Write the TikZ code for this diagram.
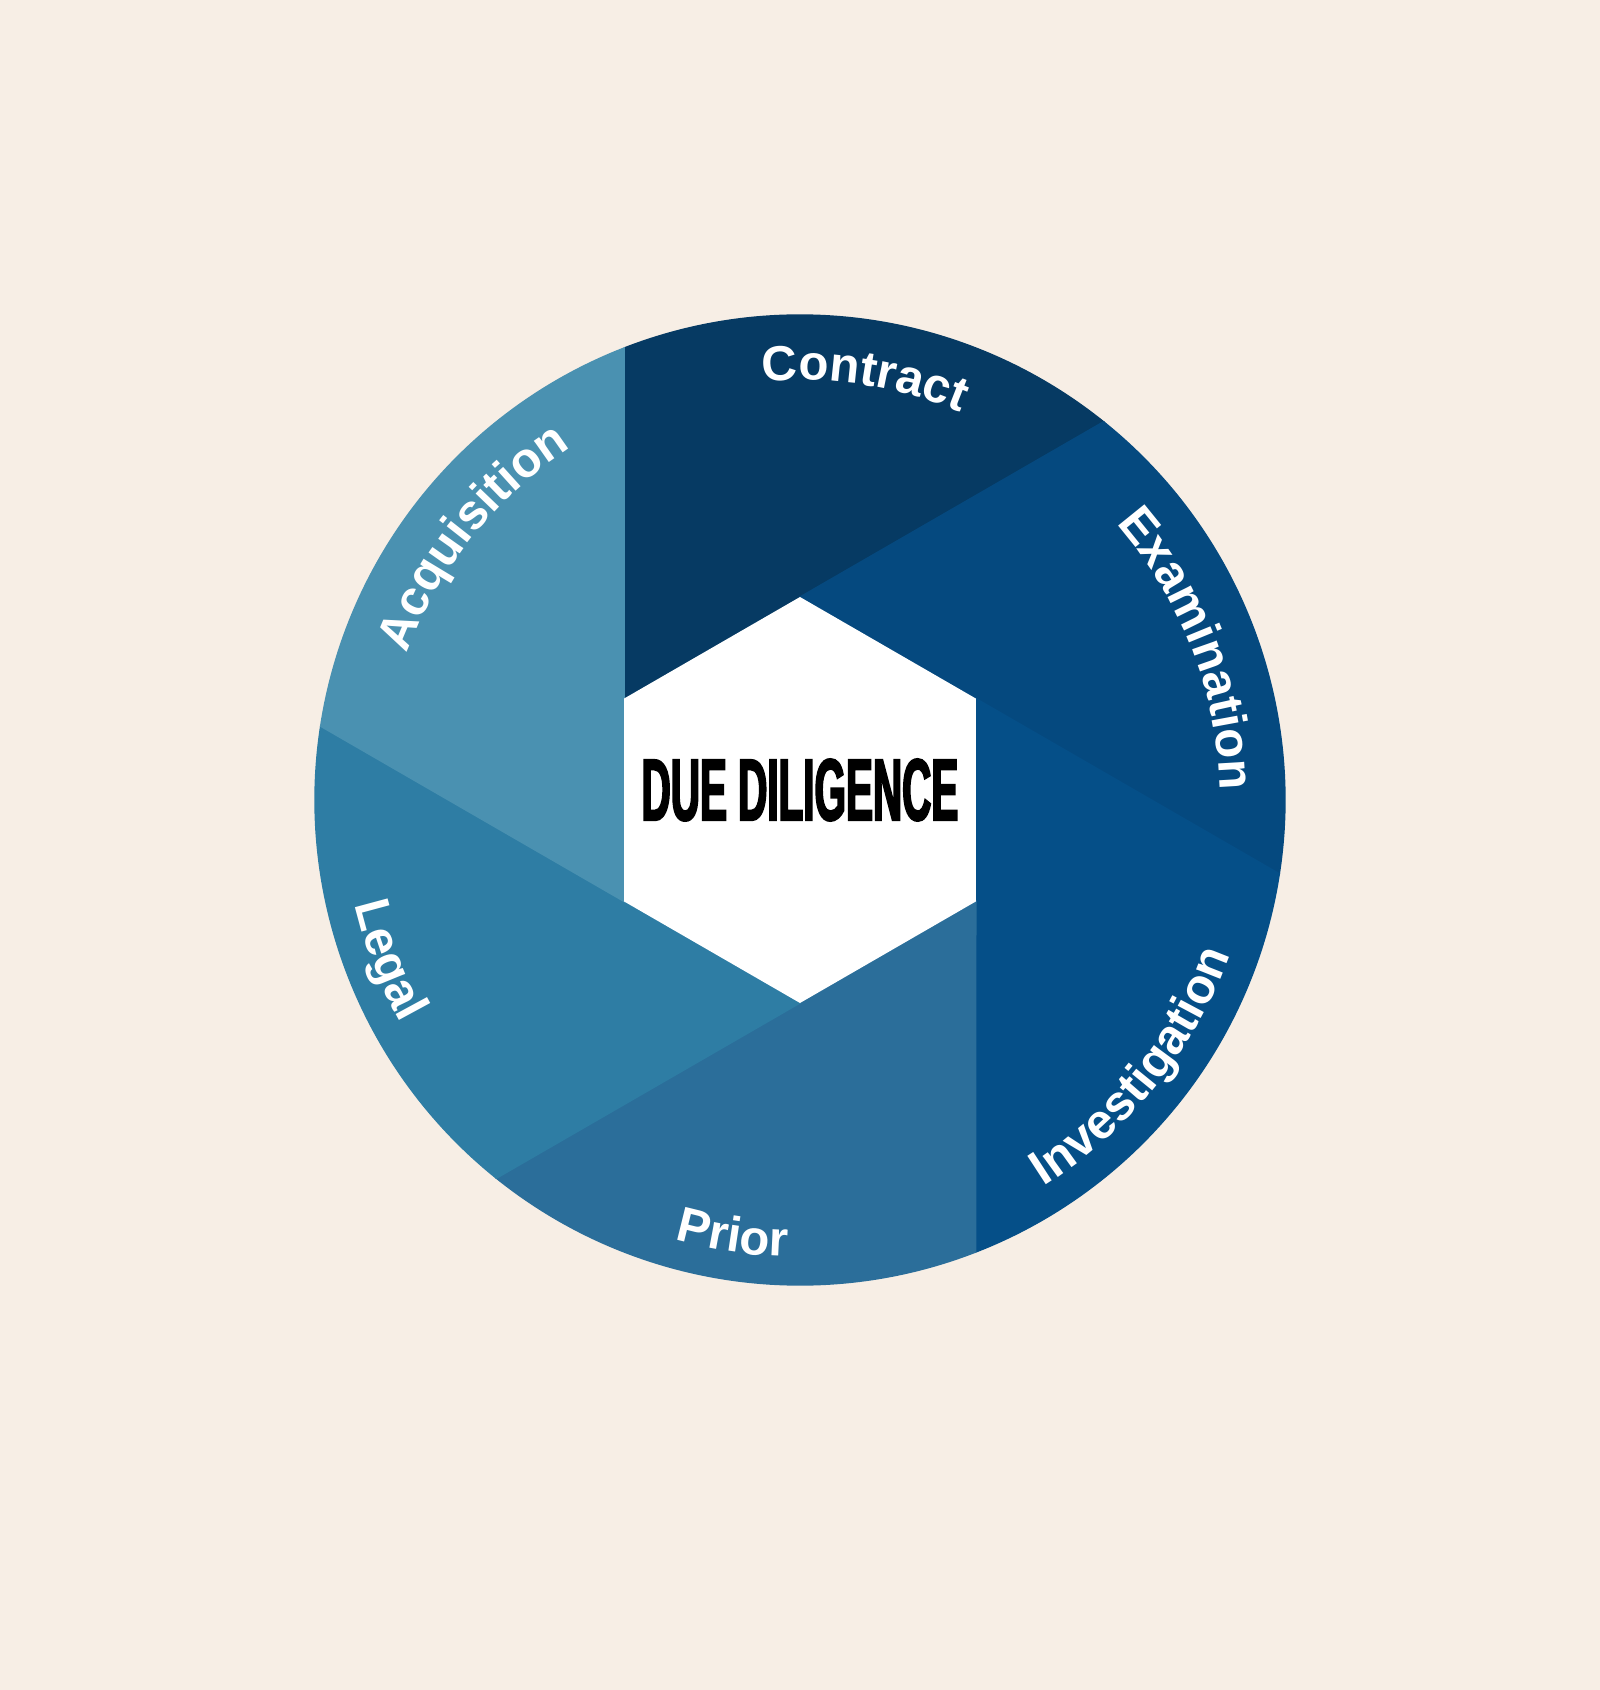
\documentclass[tikz,border=0pt]{standalone}
\usepackage{fontspec}
\setmainfont{Liberation Sans}
\newfontfamily\hexfont[FakeStretch=0.46,FakeBold=2]{Liberation Sans Bold}
\newcommand{\lblfont}{\fontsize{14}{14}\selectfont\bfseries}
\usetikzlibrary{decorations.text}
\definecolor{bgcream}{HTML}{F7EEE5}
\definecolor{contractcol}{HTML}{063A63}
\definecolor{examcol}{HTML}{05497F}
\definecolor{investcol}{HTML}{054F88}
\definecolor{priorcol}{HTML}{2B6E9A}
\definecolor{legalcol}{HTML}{2E7DA4}
\definecolor{acqcol}{HTML}{4A91B1}
\begin{document}
\begin{tikzpicture}[x=0.01cm,y=0.01cm]
\tikzset{blade/.style={fill=#1,draw=#1,line width=0.4pt}}
\tikzset{lbl/.style={decorate,decoration={text along path,
  text/.expanded={|\noexpand\lblfont|#1},text align=center,text color=white}}}
\pgfmathsetmacro{\rO}{485}   %outer radius
\pgfmathsetmacro{\rH}{203}   %hexagon radius
\pgfmathsetmacro{\rT}{420}   %upper labels
\pgfmathsetmacro{\rB}{457}   %lower labels
%background
\fill[bgcream] (-800,-890) rectangle (800,800);
\useasboundingbox (-800,-890) rectangle (800,800);
%blades
\foreach \k/\col in {0/contractcol,1/examcol,2/investcol,3/priorcol,4/legalcol,5/acqcol}{
\filldraw[blade=\col] ({150-60*\k}:\rH) -- ({90-60*\k}:\rH) -- ({51.25-60*\k}:\rO)
  arc[start angle={51.25-60*\k}, end angle={111.25-60*\k}, radius=\rO] -- cycle;}
%hexagon
\fill[white] (90:\rH) \foreach \a in {150,210,...,390}{ -- (\a:\rH)} -- cycle;
\node[inner sep=0pt,font=\hexfont\fontsize{25}{25}\selectfont] (title) at (0,10) {DUE DILIGENCE};
%labels
\foreach \c/\txt in {81.25/Contract,21.25/Examination,141.25/Acquisition}{
\path[lbl=\txt] ({\c+30}:\rT) arc[start angle={\c+30}, end angle={\c-30}, radius=\rT];}
\foreach \c/\txt in {-38.75/Investigation,-98.75/Prior,-158.75/Legal}{
\path[lbl=\txt] ({\c-30}:\rB) arc[start angle={\c-30}, end angle={\c+30}, radius=\rB];}
\end{tikzpicture}
\end{document}
